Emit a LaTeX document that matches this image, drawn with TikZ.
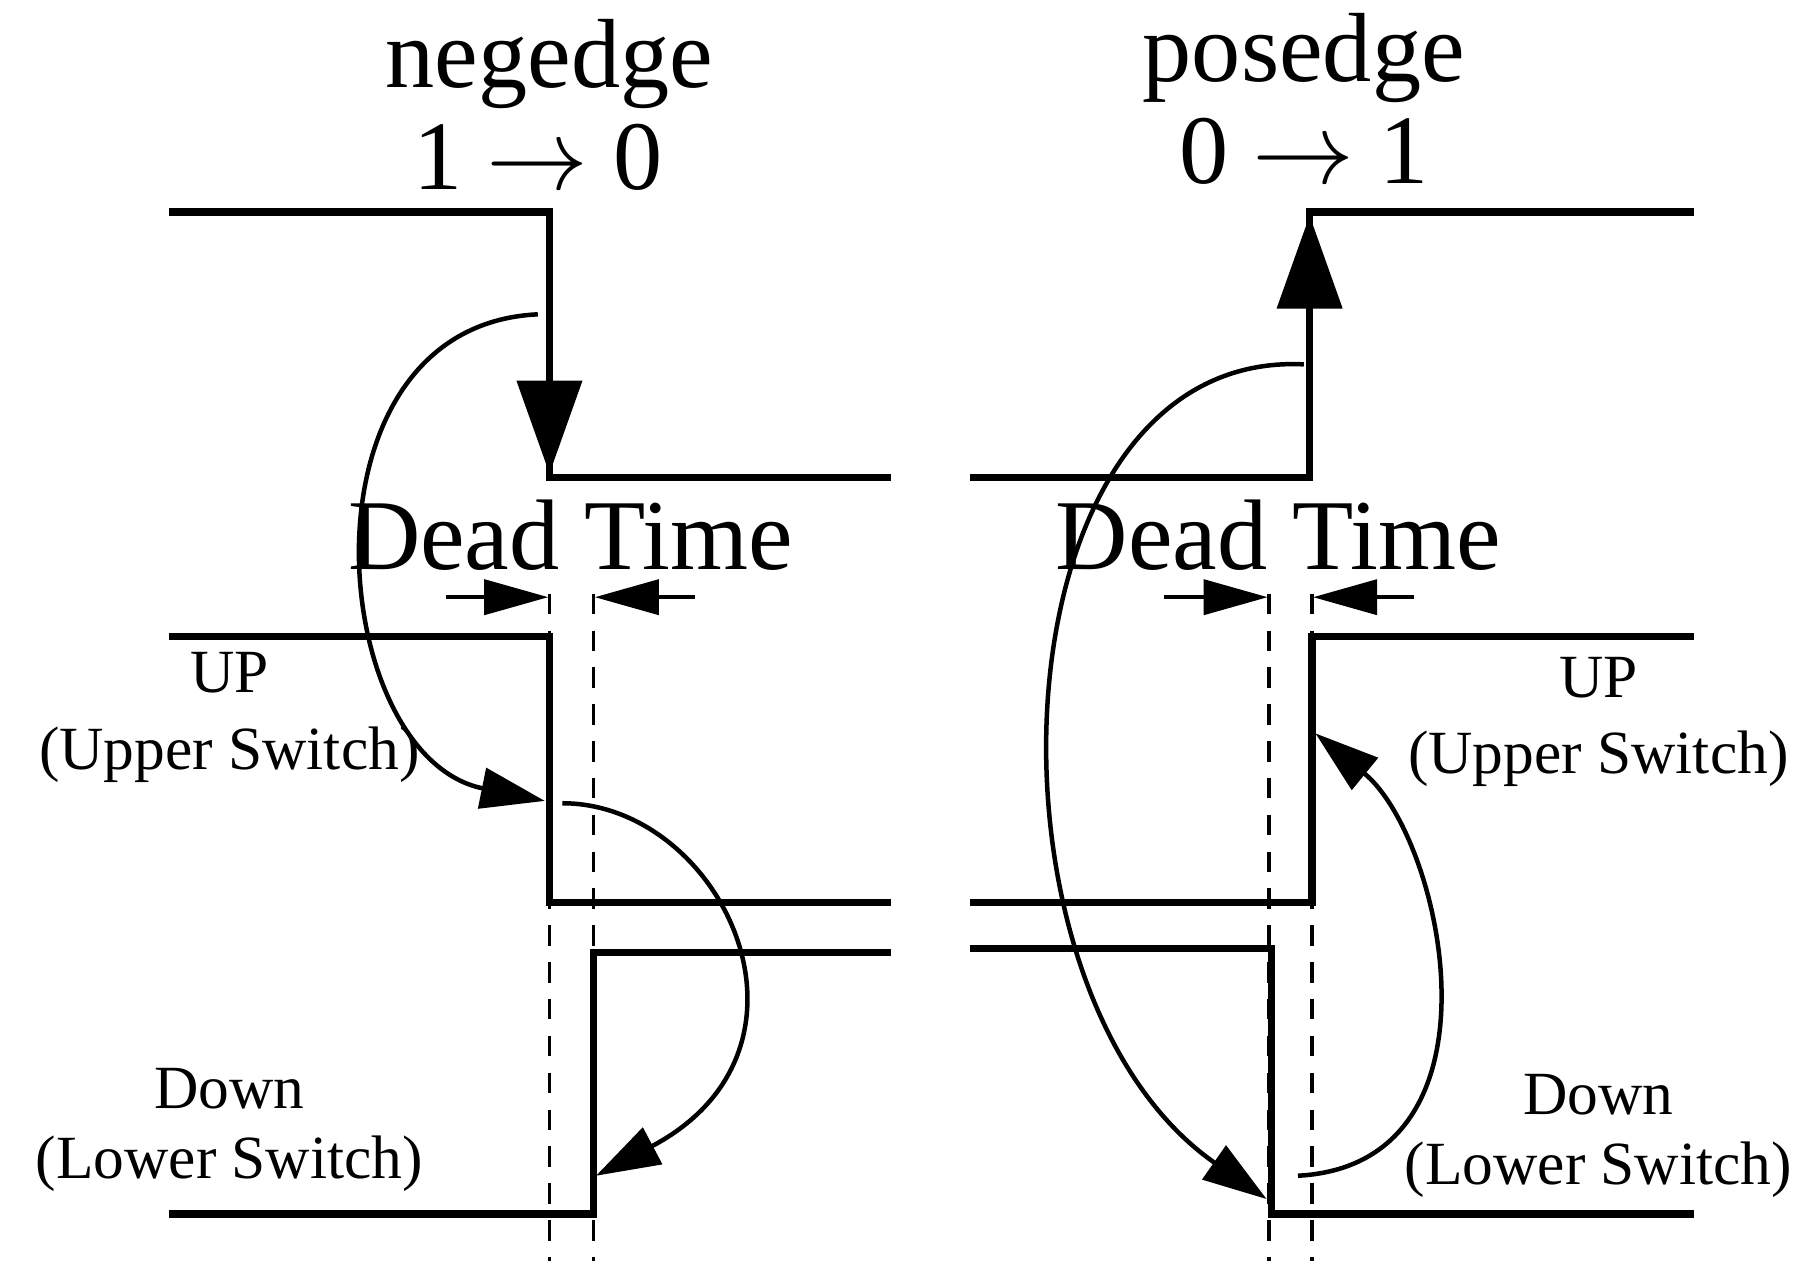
\documentclass[tikz,border=0pt]{standalone}
\usepackage{fontspec}
\setmainfont{Liberation Serif}
\usetikzlibrary{arrows.meta}
\begin{document}
\begin{tikzpicture}[x=0.01cm,y=-0.01cm,
 sig/.style={line width=1.8pt},
 bigarr/.style={line width=1.8pt,-{Triangle[length=0.8cm,width=0.55cm]}},
 curv/.style={line width=1.1pt,-{Triangle[length=0.55cm,width=0.35cm]}},
 dt/.style={line width=1pt,-{Triangle[length=0.55cm,width=0.3cm]}},
 dashln/.style={line width=0.8pt,dash pattern=on 5pt off 4pt},
 ttl/.style={font=\fontsize{24}{26}\selectfont},
 dead/.style={font=\fontsize{24.5}{26}\selectfont},
 lab/.style={font=\fontsize{15}{17}\selectfont}]
\useasboundingbox (0,0) rectangle (1560,1103);
% Left
\node[ttl] (t1) at (472,55) {negedge};
\node[ttl] (t2) at (462,135) {1 $\rightarrow$ 0};
\draw[sig] (145,182) -- (472,182) -- (472,410) -- (765,410);
\coordinate (la) at (472,182); \coordinate (lb) at (472,407);
\draw[bigarr] (la) -- (lb);
\draw[sig] (145,547) -- (472,547) -- (472,775) -- (765,775);
\draw[sig] (145,1043) -- (510,1043) -- (510,818) -- (765,818);
\draw[dashln] (472,510) -- (472,1083);
\draw[dashln] (510,510) -- (510,1083);
\node[dead] (d1) at (490,460) {Dead Time};
\coordinate (a1) at (383,513); \coordinate (a2) at (471,513);
\coordinate (a3) at (597,513); \coordinate (a4) at (511,513);
\draw[dt] (a1) -- (a2); \draw[dt] (a3) -- (a4);
\node[lab] (u1) at (197,578) {UP};
\node[lab] (u2) at (197,648) {(Upper Switch)};
\node[lab] (w1) at (197,935) {Down};
\node[lab] (w2) at (197,1000) {(Lower Switch)};
\coordinate (c1) at (462,270); \coordinate (c2) at (468,688);
\draw[curv] (c1) .. controls (250,280) and (280,650) .. (c2);
\coordinate (c3) at (483,690); \coordinate (c4) at (512,1010);
\draw[curv] (c3) .. controls (620,690) and (720,900) .. (c4);
% Right
\node[ttl] (t3) at (1120,50) {posedge};
\node[ttl] (t4) at (1120,130) {0 $\rightarrow$ 1};
\draw[sig] (833,410) -- (1125,410) -- (1125,182) -- (1455,182);
\coordinate (ra) at (1125,410); \coordinate (rb) at (1125,185);
\draw[bigarr] (ra) -- (rb);
\draw[sig] (833,775) -- (1127,775) -- (1127,547) -- (1455,547);
\draw[sig] (833,815) -- (1092,815) -- (1092,1043) -- (1455,1043);
\draw[dashln] (1090,510) -- (1090,1083);
\draw[dashln] (1127,510) -- (1127,1083);
\node[dead] (d2) at (1098,460) {Dead Time};
\coordinate (b1) at (1000,513); \coordinate (b2) at (1089,513);
\coordinate (b3) at (1215,513); \coordinate (b4) at (1128,513);
\draw[dt] (b1) -- (b2); \draw[dt] (b3) -- (b4);
\node[lab] (u3) at (1373,582) {UP};
\node[lab] (u4) at (1373,652) {(Upper Switch)};
\node[lab] (w3) at (1373,940) {Down};
\node[lab] (w4) at (1373,1005) {(Lower Switch)};
\coordinate (e1) at (1120,313); \coordinate (e2) at (1088,1030);
\draw[curv] (e1) .. controls (850,300) and (830,850) .. (e2);
\coordinate (e3) at (1115,1010); \coordinate (e4) at (1130,630);
\draw[curv] (e3) .. controls (1300,1000) and (1240,720) .. (e4);
\end{tikzpicture}
\end{document}
